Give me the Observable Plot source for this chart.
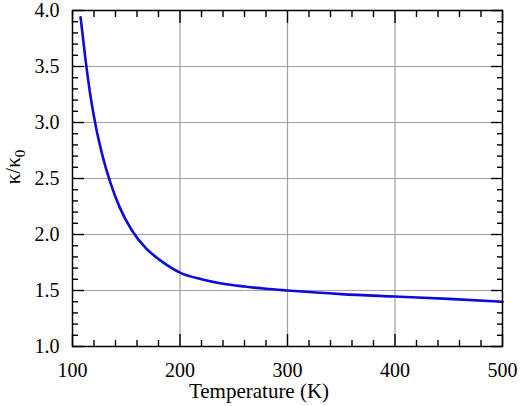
<!DOCTYPE html>
<html><head><meta charset="utf-8">
<script src="https://cdn.jsdelivr.net/npm/d3@7"></script>
<script src="https://cdn.jsdelivr.net/npm/@observablehq/plot@0.6"></script>
<style>body{margin:0;background:#fff}</style>
</head><body><div id="chart"></div>
<script>
const temperature = [107.5, 112, 117, 122, 128, 135, 144, 155, 168, 183, 200, 220, 240, 260, 280, 300, 350, 400, 450, 500];
const kappaRatio  = [3.94, 3.57, 3.22, 2.95, 2.70, 2.47, 2.24, 2.04, 1.88, 1.76, 1.66, 1.60, 1.56, 1.535, 1.515, 1.50, 1.468, 1.446, 1.425, 1.40];
const xMajorTicks = [100, 200, 300, 400, 500];
const xMinorTicks = [120, 140, 160, 180, 220, 240, 260, 280, 320, 340, 360, 380, 420, 440, 460, 480];
const yMajorTicks = [1.0, 1.5, 2.0, 2.5, 3.0, 3.5, 4.0];
const yMinorTicks = [1.1, 1.2, 1.3, 1.4, 1.6, 1.7, 1.8, 1.9, 2.1, 2.2, 2.3, 2.4, 2.6, 2.7, 2.8, 2.9, 3.1, 3.2, 3.3, 3.4, 3.6, 3.7, 3.8, 3.9];
const xGrid = [200, 300, 400];
const yGrid = [1.5, 2.0, 2.5, 3.0, 3.5];
const xLabel = "Temperature (K)";
const yLabelMain = "κ/κ";
const yLabelSub = "0";

const data = temperature.map((t, i) => ({t, k: kappaRatio[i]}));
const tickStyle = {fill: "none", label: null, stroke: "#000", strokeWidth: 1.4};
const font = "'Liberation Serif', 'Times New Roman', 'DejaVu Serif', serif";

const chart = Plot.plot({
  width: 520, height: 406,
  marginLeft: 72, marginRight: 18, marginTop: 10, marginBottom: 60,
  style: {fontFamily: font, fontSize: "20px", background: "#fff", color: "#000"},
  x: {domain: [100, 500]},
  y: {domain: [1, 4]},
  marks: [
    Plot.gridX(xGrid, {stroke: "#a0a0a0", strokeOpacity: 1, strokeWidth: 1.2}),
    Plot.gridY(yGrid, {stroke: "#a0a0a0", strokeOpacity: 1, strokeWidth: 1.2}),
    Plot.axisX(xMajorTicks, {anchor: "bottom", tickSize: 0, tickPadding: 16, tickFormat: d => String(d), label: null, fill: "#000", fontFamily: font, fontSize: 20}),
    Plot.axisY(yMajorTicks, {anchor: "left", tickSize: 0, tickPadding: 13, tickFormat: d3.format(".1f"), label: null, fill: "#000", fontFamily: font, fontSize: 20}),
    Plot.axisX(xMajorTicks, {anchor: "bottom", tickSize: -12, ...tickStyle}),
    Plot.axisX(xMinorTicks, {anchor: "bottom", tickSize: -6, ...tickStyle}),
    Plot.axisX(xMajorTicks, {anchor: "top", tickSize: -12, ...tickStyle}),
    Plot.axisX(xMinorTicks, {anchor: "top", tickSize: -6, ...tickStyle}),
    Plot.axisY(yMajorTicks, {anchor: "left", tickSize: -12, ...tickStyle}),
    Plot.axisY(yMinorTicks, {anchor: "left", tickSize: -6, ...tickStyle}),
    Plot.axisY(yMajorTicks, {anchor: "right", tickSize: -12, ...tickStyle}),
    Plot.axisY(yMinorTicks, {anchor: "right", tickSize: -6, ...tickStyle}),
    Plot.line(data, {x: "t", y: "k", stroke: "#0b0bd9", strokeWidth: 2.6, curve: "monotone-x"}),
    Plot.frame({stroke: "#000", strokeWidth: 1.5})
  ]
});

const svg = d3.select(chart);
svg.append("text")
  .attr("x", 259).attr("y", 398)
  .attr("text-anchor", "middle")
  .style("font-family", font).style("font-size", "21px").attr("fill", "#000")
  .text(xLabel);
const yl = svg.append("text")
  .attr("transform", "translate(20,167) rotate(-90)")
  .attr("text-anchor", "middle")
  .style("font-family", font).style("font-size", "21px").attr("fill", "#000");
yl.append("tspan").text(yLabelMain);
yl.append("tspan").attr("dy", 5).style("font-size", "15px").text(yLabelSub);

document.getElementById("chart").appendChild(chart);
</script>
</body></html>
